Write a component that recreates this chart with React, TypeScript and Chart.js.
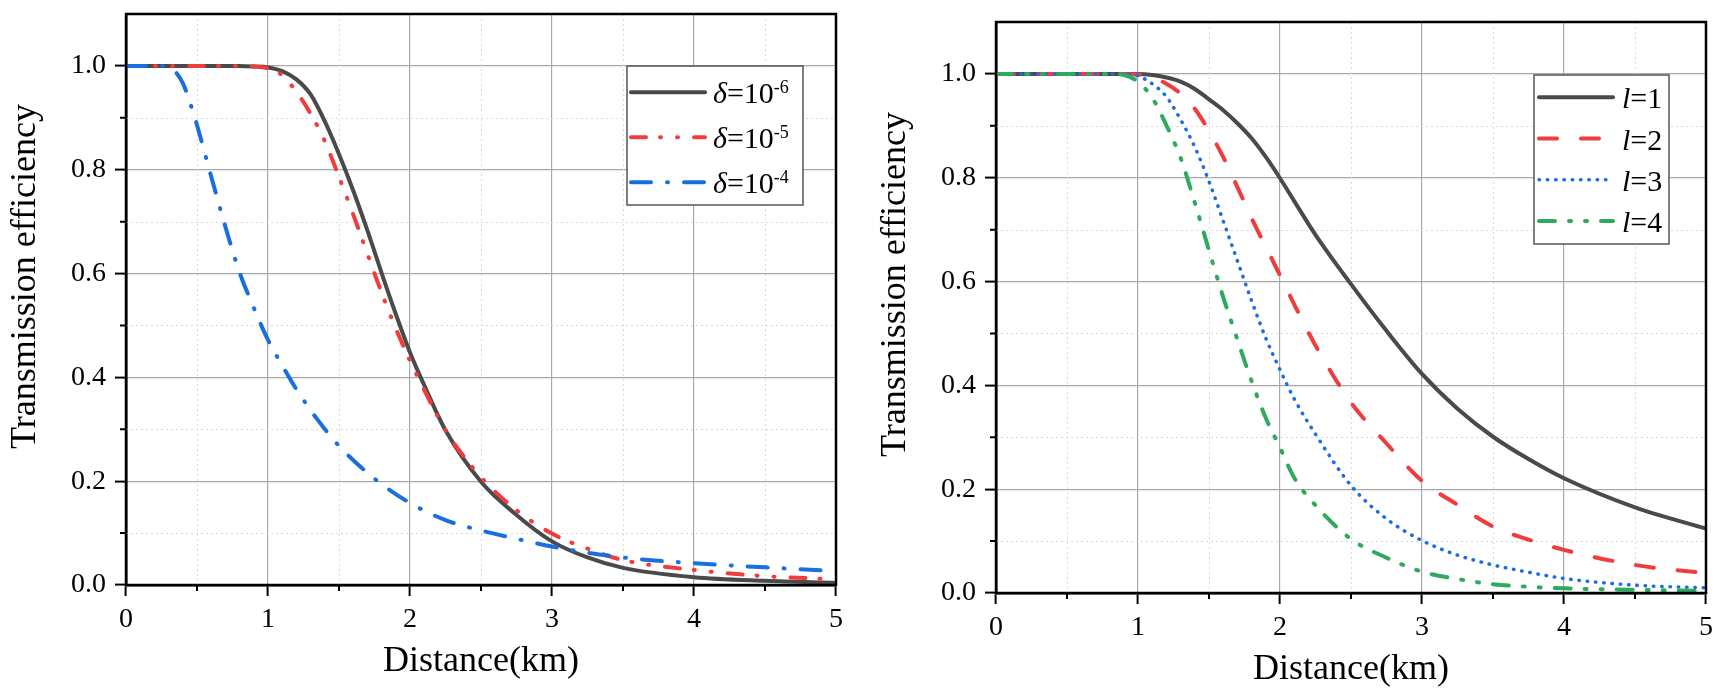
import { useEffect, useRef } from 'react';
import { Chart, registerables } from 'chart.js';

Chart.register(...registerables);

const FONT = "'Liberation Serif', 'Times New Roman', serif";
Chart.defaults.font.family = FONT;
Chart.defaults.font.size = 28;
Chart.defaults.color = '#000';

// Axis ticks (major ticks carry labels, minor ones only a short mark and a dotted grid line)
const DIST_TICKS = [0, 1, 2, 3, 4, 5];
const DIST_MINOR = [0.5, 1.5, 2.5, 3.5, 4.5];
const EFF_TICKS = [0, 0.2, 0.4, 0.6, 0.8, 1.0];
const EFF_MINOR = [0.1, 0.3, 0.5, 0.7, 0.9];

const X_TITLE = 'Distance(km)';
const Y_TITLE = 'Transmission efficiency';

// Left panel: efficiency vs distance for three turbulence strengths δ
const DELTA_EXP = ['-6', '-5', '-4'];
const DIST_D6 = [0, 0.5, 0.8, 0.9, 1.0, 1.1, 1.2, 1.3, 1.4, 1.5, 1.6, 1.7, 1.8, 1.9, 2.0, 2.1, 2.25, 2.5, 2.75, 3.0, 3.25, 3.5, 4.0, 4.5, 5.0];
const EFF_D6 = [1, 1, 1, 0.999, 0.997, 0.99, 0.974, 0.945, 0.893, 0.83, 0.76, 0.683, 0.601, 0.522, 0.448, 0.385, 0.298, 0.199, 0.135, 0.084, 0.053, 0.033, 0.015, 0.008, 0.004];
const DIST_D5 = [0, 0.5, 0.8, 0.9, 1.0, 1.1, 1.2, 1.3, 1.4, 1.5, 1.6, 1.7, 1.8, 1.9, 2.0, 2.1, 2.25, 2.5, 2.75, 3.0, 3.25, 3.5, 4.0, 4.5, 5.0];
const EFF_D5 = [1, 1, 1, 0.999, 0.995, 0.982, 0.95, 0.908, 0.855, 0.786, 0.714, 0.638, 0.563, 0.494, 0.432, 0.376, 0.298, 0.208, 0.144, 0.099, 0.07, 0.048, 0.029, 0.017, 0.011];
const DIST_D4 = [0, 0.2, 0.3, 0.35, 0.4, 0.45, 0.5, 0.6, 0.7, 0.8, 0.9, 1.0, 1.1, 1.2, 1.35, 1.5, 1.75, 2.0, 2.25, 2.5, 2.75, 3.0, 3.5, 4.0, 4.5, 5.0];
const EFF_D4 = [1, 1, 0.998, 0.988, 0.967, 0.93, 0.886, 0.787, 0.69, 0.602, 0.534, 0.472, 0.423, 0.377, 0.318, 0.268, 0.205, 0.158, 0.125, 0.105, 0.089, 0.074, 0.053, 0.042, 0.034, 0.027];

// Right panel: efficiency vs distance for OAM mode numbers l
const MODE_L = ['1', '2', '3', '4'];
const DIST_L = [0, 0.5, 0.8, 0.9, 1.0, 1.1, 1.2, 1.3, 1.4, 1.5, 1.6, 1.7, 1.8, 1.9, 2.0, 2.1, 2.25, 2.5, 2.75, 3.0, 3.25, 3.5, 3.75, 4.0, 4.5, 5.0];
const EFF_L1 = [1, 1, 1, 1, 1, 0.998, 0.993, 0.985, 0.971, 0.951, 0.93, 0.905, 0.876, 0.84, 0.799, 0.755, 0.69, 0.595, 0.505, 0.422, 0.355, 0.301, 0.258, 0.221, 0.165, 0.124];
const EFF_L2 = [1, 1, 1, 1, 0.999, 0.993, 0.981, 0.962, 0.933, 0.89, 0.84, 0.782, 0.722, 0.667, 0.612, 0.556, 0.477, 0.367, 0.288, 0.216, 0.17, 0.128, 0.103, 0.083, 0.054, 0.038];
const EFF_L3 = [1, 1, 1, 1, 0.996, 0.981, 0.956, 0.912, 0.859, 0.793, 0.717, 0.64, 0.563, 0.491, 0.43, 0.374, 0.306, 0.207, 0.143, 0.101, 0.073, 0.054, 0.04, 0.028, 0.015, 0.01];
const EFF_L4 = [1, 1, 1, 0.998, 0.985, 0.954, 0.901, 0.838, 0.752, 0.66, 0.57, 0.488, 0.408, 0.337, 0.28, 0.222, 0.169, 0.104, 0.068, 0.041, 0.027, 0.017, 0.012, 0.009, 0.006, 0.004];

const GRAY = '#4a4a4a';
const RED = '#f03c3c';
const BLUE = '#1a6fe0';
const GREEN = '#2eaa5e';

type Part = { t: string; italic?: boolean; sup?: boolean };

type LegendBox = {
  dx: number; dy: number; w: number; h: number;
  firstRow: number; rowGap: number;
  lineX0: number; lineX1: number; textX: number;
  baseOff: number; size: number; supSize: number; supRaise: number;
};

type DecorCfg = {
  labels: Part[][];
  legend: LegendBox;
};

function panelDecor(cfg: DecorCfg) {
  return {
    id: 'panelDecor',
    beforeDatasetsDraw(chart: any) {
      const { ctx, chartArea: ca, scales } = chart;
      ctx.save();
      ctx.strokeStyle = '#d9d9d9';
      ctx.lineWidth = 1;
      ctx.setLineDash([2, 3]);
      ctx.beginPath();
      for (const v of DIST_MINOR) {
        const px = Math.round(scales.x.getPixelForValue(v)) + 0.5;
        ctx.moveTo(px, ca.top);
        ctx.lineTo(px, ca.bottom);
      }
      for (const v of EFF_MINOR) {
        const py = Math.round(scales.y.getPixelForValue(v)) + 0.5;
        ctx.moveTo(ca.left, py);
        ctx.lineTo(ca.right, py);
      }
      ctx.stroke();
      ctx.restore();
    },
    afterDatasetsDraw(chart: any) {
      const { ctx, chartArea: ca, scales } = chart;
      ctx.save();
      // closed black frame around the plotting area
      ctx.strokeStyle = '#000';
      ctx.lineWidth = 2.5;
      ctx.strokeRect(ca.left, ca.top, ca.right - ca.left, ca.bottom - ca.top);
      // minor tick marks
      ctx.lineWidth = 2;
      ctx.beginPath();
      for (const v of DIST_MINOR) {
        const px = scales.x.getPixelForValue(v);
        ctx.moveTo(px, ca.bottom);
        ctx.lineTo(px, ca.bottom + 6);
      }
      for (const v of EFF_MINOR) {
        const py = scales.y.getPixelForValue(v);
        ctx.moveTo(ca.left - 6, py);
        ctx.lineTo(ca.left, py);
      }
      ctx.stroke();
      ctx.restore();
    },
    afterDraw(chart: any) {
      const { ctx, chartArea: ca } = chart;
      const L = cfg.legend;
      ctx.save();
      // legend box
      const bx = ca.left + L.dx;
      const by = ca.top + L.dy;
      ctx.fillStyle = '#fff';
      ctx.fillRect(bx, by, L.w, L.h);
      ctx.strokeStyle = '#555';
      ctx.lineWidth = 1.5;
      ctx.strokeRect(bx, by, L.w, L.h);
      chart.data.datasets.forEach((ds: any, i: number) => {
        const cy = by + L.firstRow + i * L.rowGap;
        ctx.save();
        ctx.strokeStyle = ds.borderColor;
        ctx.lineWidth = ds.borderWidth;
        ctx.lineCap = ds.borderCapStyle || 'butt';
        ctx.setLineDash(ds.borderDash || []);
        ctx.beginPath();
        ctx.moveTo(bx + L.lineX0 + 2, cy);
        ctx.lineTo(bx + L.lineX1 - 2, cy);
        ctx.stroke();
        ctx.restore();
        let x = bx + L.textX;
        const base = cy + L.baseOff;
        ctx.fillStyle = '#000';
        ctx.textAlign = 'left';
        ctx.textBaseline = 'alphabetic';
        for (const p of cfg.labels[i]) {
          const size = p.sup ? L.supSize : L.size;
          ctx.font = `${p.italic ? 'italic ' : ''}${size}px ${FONT}`;
          ctx.fillText(p.t, x, p.sup ? base - L.supRaise : base);
          x += ctx.measureText(p.t).width;
        }
      });
      // axis titles
      ctx.fillStyle = '#000';
      ctx.font = `36px ${FONT}`;
      ctx.textAlign = 'center';
      ctx.textBaseline = 'middle';
      ctx.fillText(X_TITLE, (ca.left + ca.right) / 2, ca.bottom + 77);
      ctx.save();
      ctx.translate(ca.left - 100, (ca.top + ca.bottom) / 2 - 23);
      ctx.rotate(-Math.PI / 2);
      ctx.fillText(Y_TITLE, 0, 0);
      ctx.restore();
      ctx.restore();
    },
  };
}

function series(label: string, xs: number[], ys: number[], color: string, dash: number[], order: number, width = 4) {
  return {
    label,
    data: xs.map((x, i) => ({ x, y: ys[i] })),
    borderColor: color,
    backgroundColor: color,
    borderWidth: width,
    borderDash: dash,
    borderCapStyle: 'round',
    borderJoinStyle: 'round',
    pointRadius: 0,
    cubicInterpolationMode: 'monotone',
    fill: false,
    order,
  };
}

function makeConfig(datasets: any[], labels: Part[][], legend: LegendBox, pad: { top: number; right: number }, yWidth: number, xHeight: number) {
  const gridBase = {
    color: '#a8a8a8',
    lineWidth: 1.2,
    tickColor: '#000',
    tickWidth: 2,
    tickLength: 11,
  };
  const tickFont = { family: FONT, size: 28 };
  return {
    type: 'line',
    data: { datasets },
    plugins: [panelDecor({ labels, legend })],
    options: {
      responsive: false,
      animation: false,
      events: [],
      layout: { padding: { top: pad.top, right: pad.right, left: 0, bottom: 0 } },
      plugins: { legend: { display: false }, tooltip: { enabled: false } },
      scales: {
        x: {
          type: 'linear',
          min: 0,
          max: 5,
          afterBuildTicks: (s: any) => { s.ticks = DIST_TICKS.map((value) => ({ value })); },
          afterFit: (s: any) => {
            s.height = xHeight;
            s.paddingLeft = 0;
            s.paddingRight = 0;
          },
          grid: gridBase,
          border: { display: true, color: '#000', width: 2.5 },
          ticks: {
            autoSkip: false,
            maxRotation: 0,
            padding: 7,
            color: '#000',
            font: tickFont,
            callback: (v: number) => String(v),
          },
        },
        y: {
          type: 'linear',
          min: 0,
          max: 1.1,
          afterBuildTicks: (s: any) => { s.ticks = EFF_TICKS.map((value) => ({ value })); },
          afterFit: (s: any) => {
            s.width = yWidth;
            s.paddingTop = 0;
            s.paddingBottom = 0;
          },
          grid: gridBase,
          border: { display: true, color: '#000', width: 2.5 },
          ticks: {
            autoSkip: false,
            padding: 9,
            color: '#000',
            font: tickFont,
            callback: (v: number) => v.toFixed(1),
          },
        },
      },
    },
  };
}

const deltaLabels: Part[][] = DELTA_EXP.map((e) => [{ t: 'δ', italic: true }, { t: '=10' }, { t: e, sup: true }]);
const modeLabels: Part[][] = MODE_L.map((m) => [{ t: 'l', italic: true }, { t: '=' + m }]);

function leftConfig() {
  const datasets = [
    series('δ=10^-6', DIST_D6, EFF_D6, GRAY, [], 3),
    series('δ=10^-5', DIST_D5, EFF_D5, RED, [15, 14, 1, 16, 1, 16], 2),
    series('δ=10^-4', DIST_D4, EFF_D4, BLUE, [20, 16, 1, 16], 1),
  ];
  return makeConfig(
    datasets,
    deltaLabels,
    { dx: 501, dy: 52, w: 176, h: 139, firstRow: 26.3, rowGap: 45, lineX0: 2, lineX1: 80, textX: 86, baseOff: 11, size: 30, supSize: 18, supRaise: 10 },
    { top: 14, right: 26 },
    126,
    105,
  );
}

function rightConfig() {
  const datasets = [
    series('l=1', DIST_L, EFF_L1, GRAY, [], 4),
    series('l=2', DIST_L, EFF_L2, RED, [18, 24], 3),
    series('l=3', DIST_L, EFF_L3, BLUE, [0.5, 7.8], 2, 3.5),
    series('l=4', DIST_L, EFF_L4, GREEN, [16, 14, 2, 14, 2, 14], 1),
  ];
  return makeConfig(
    datasets,
    modeLabels,
    { dx: 538, dy: 53, w: 135, h: 169, firstRow: 22.3, rowGap: 41.2, lineX0: 3, lineX1: 81, textX: 88, baseOff: 11, size: 30, supSize: 18, supRaise: 10 },
    { top: 22, right: 19 },
    134,
    97,
  );
}

function Panel({ make, left, width }: { make: () => any; left: number; width: number }) {
  const ref = useRef<HTMLCanvasElement>(null);
  useEffect(() => {
    const chart = new Chart(ref.current as HTMLCanvasElement, make());
    return () => chart.destroy();
  }, [make]);
  return (
    <canvas
      ref={ref}
      width={width}
      height={690}
      style={{ position: 'absolute', left, top: 0, width, height: 690 }}
    />
  );
}

export default function App() {
  return (
    <div style={{ position: 'absolute', left: 0, top: 0, width: 1725, height: 690, background: '#fff', overflow: 'hidden' }}>
      <Panel make={leftConfig} left={0} width={862} />
      <Panel make={rightConfig} left={862} width={863} />
    </div>
  );
}
